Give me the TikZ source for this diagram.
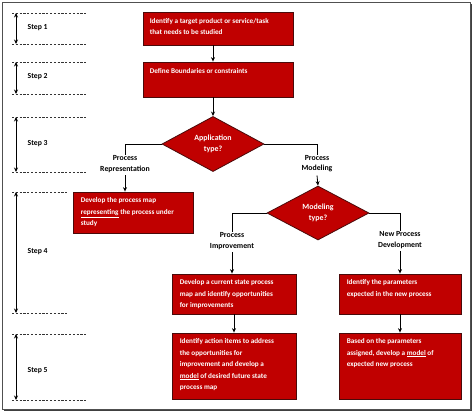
\documentclass[tikz,border=0pt]{standalone}
\usepackage{fontspec}
\setmainfont{Carlito}
\usetikzlibrary{shapes.geometric,arrows.meta}
\definecolor{boxred}{HTML}{C00000}
\definecolor{boxedge}{HTML}{4A0A0A}
\definecolor{framegray}{HTML}{505050}
\tikzset{
  fnt/.style={font=\fontsize{7.2}{11.5}\selectfont\bfseries},
  boxnode/.style={rectangle, draw=boxedge, line width=0.8pt, fill=boxred, inner sep=0pt},
  boxtxt/.style={fnt, text=white, align=left, anchor=north west, inner sep=0pt},
  decnode/.style={diamond, draw=boxedge, line width=0.8pt, fill=boxred, inner sep=0pt, text=white, align=center, font=\fontsize{7.9}{11}\selectfont\bfseries},
  lbl/.style={text=black, align=center, inner sep=1pt, font=\fontsize{7.8}{10.2}\selectfont\bfseries},
  conn/.style={draw=black, line width=0.8pt},
  arr/.style={conn, -{Stealth[length=4.5pt,width=4pt]}},
  stepdash/.style={draw=black!80, line width=0.7pt, dash pattern=on 2.2pt off 1.6pt},
  steparr/.style={draw=black, line width=0.8pt, {Stealth[length=4.5pt,width=4pt]}-{Stealth[length=4.5pt,width=4pt]}},
  steplbl/.style={font=\fontsize{7.7}{10}\selectfont\bfseries, text=black, anchor=west, inner sep=0pt},
}
\begin{document}
\begin{tikzpicture}[x=1pt,y=-1pt]
\useasboundingbox (0,0) rectangle (474,413);
% frame
\draw[framegray, line width=1pt] (2.5,2.5) rectangle (470,409);
\draw[black!75, line width=1pt] (471,3.5) -- (471,410) -- (3.5,410);

% ---- step markers ----
\foreach \n/\ya/\yb/\xe/\yl in {1/13/44/87/27.5, 2/62/94/87/77, 3/117/172/87/144, 4/192/313/68/252, 5/334/400/87/371}{
  \coordinate (st\n a) at (16,\ya);
  \coordinate (st\n b) at (16,\yb);
  \coordinate (se\n a) at (\xe,\ya);
  \coordinate (se\n b) at (\xe,\yb);
  \draw[stepdash] (12,\ya) -- (se\n a);
  \draw[stepdash] (12,\yb) -- (se\n b);
  \draw[steparr] (st\n a) -- (st\n b);
  \node[steplbl] (sl\n) at (27.5,\yl) {Step \n};
}

% ---- boxes ----
\node[boxnode, minimum width=150pt, minimum height=33pt] (b1) at (218,28.5) {};
\node[boxtxt] (t1) at ([shift={(7,6.3)}]b1.north west) {Identify a target product or service/task\\that needs to be studied};

\node[boxnode, minimum width=150pt, minimum height=35pt] (b2) at (218,79.5) {};
\node[boxtxt] (t2) at ([shift={(7,6.3)}]b2.north west) {Define Boundaries or constraints};

\node[decnode, minimum width=102pt, minimum height=54pt] (d1) at (213,144) {Application\\type?};

\node[lbl] (lpr) at (125,164) {Process\\Representation};
\node[lbl] (lpm) at (317,164) {Process\\Modeling};

\node[boxnode, minimum width=120pt, minimum height=41pt] (b3) at (133,212.5) {};
\node[boxtxt] (t3) at ([shift={(8,5.8)}]b3.north west) {Develop the process map\\\underline{representing} the process under\\study};

\node[decnode, minimum width=102pt, minimum height=54pt] (d2) at (318,213) {Modeling\\type?};

\node[lbl] (lpi) at (232,241) {Process\\Improvement};
\node[lbl] (lnd) at (400,240) {New Process\\Development};

\node[boxnode, minimum width=124pt, minimum height=40pt] (b4) at (234,294) {};
\node[boxtxt] (t4) at ([shift={(8,5.8)}]b4.north west) {Develop a current state process\\map and identify opportunities\\for improvements};

\node[boxnode, minimum width=124pt, minimum height=66pt] (b5) at (234,366) {};
\node[boxtxt] (t5) at ([shift={(8,5.8)}]b5.north west) {Identify action items to address\\the opportunities for\\improvement and develop a\\\underline{model} of desired future state\\process map};

\node[boxnode, minimum width=122pt, minimum height=40pt] (b6) at (400,294) {};
\node[boxtxt] (t6) at ([shift={(8,5.8)}]b6.north west) {Identify the parameters\\expected in the new process};

\node[boxnode, minimum width=122pt, minimum height=66pt] (b7) at (400,366) {};
\node[boxtxt] (t7) at ([shift={(8,5.8)}]b7.north west) {Based on the parameters\\assigned, develop a \underline{model} of\\expected new process};

% ---- connectors ----
\draw[arr] (b1.south -| d1.north) -- (b2.north -| d1.north);
\draw[arr] (b2.south -| d1.north) -- (d1.north);
\draw[conn] (d1.west) -| (lpr.north);
\draw[conn] (d1.east) -| (lpm.north);
\draw[arr] ([yshift=-2pt]lpr.south) -- (lpr.south |- b3.north);
\draw[arr] ([yshift=-2pt]lpm.south) -- (d2.north);
\draw[conn] (d2.west) -| (lpi.north);
\draw[conn] (d2.east) -| (lnd.north);
\draw[arr] ([yshift=-2pt]lpi.south) -- (lpi.south |- b4.north);
\draw[arr] ([yshift=-2pt]lnd.south) -- (lnd.south |- b6.north);
\draw[arr] (b4.south) -- (b5.north);
\draw[arr] (b6.south) -- (b7.north);
\end{tikzpicture}
\end{document}
